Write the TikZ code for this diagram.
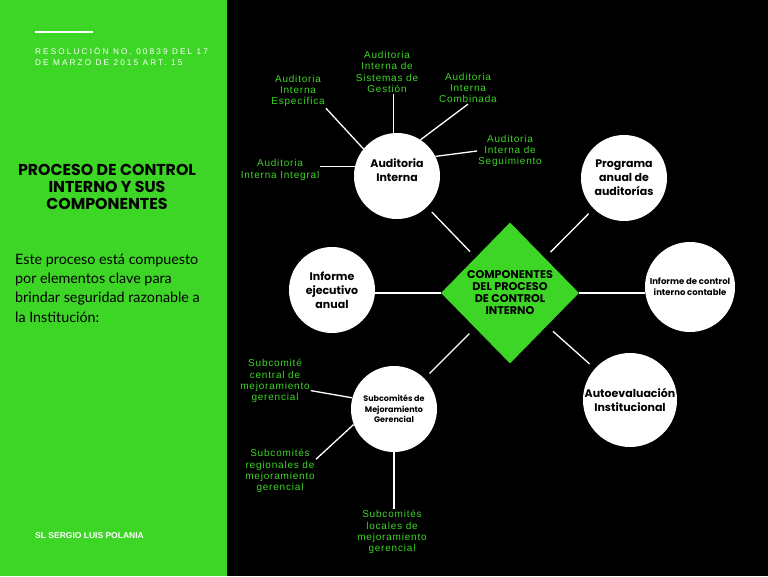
\documentclass[tikz,border=0pt]{standalone}
\usepackage{fontspec}
\setmainfont{Liberation Sans}
\newfontfamily\geofont{Poppins}
\newfontfamily\bodyfont{Lato}
\newfontfamily\greenfont[LetterSpace=8]{Liberation Sans}
\newfontfamily\widefont[LetterSpace=26]{Liberation Sans}
\usetikzlibrary{shapes.geometric}
\definecolor{panelgreen}{RGB}{62,214,38}

\begin{document}
\begin{tikzpicture}[x=1pt,y=1pt,yscale=-1,
  bubble/.style={circle,fill=white,inner sep=0pt,align=center,text=black,font=\geofont\bfseries\fontsize{11}{14}\selectfont},
  smallbubble/.style={bubble,font=\geofont\bfseries\fontsize{8.5}{10.8}\selectfont},
  sublabel/.style={text=panelgreen,align=center,inner sep=1pt,font=\greenfont\fontsize{10}{11.3}\selectfont},
  link/.style={white,line width=1.3pt},
  hub/.style={link,shorten <=8pt,shorten >=7pt}]

% Background
\fill[black] (0,0) rectangle (768,576);
\fill[panelgreen] (0,0) rectangle (227,576);
\useasboundingbox (0,0) rectangle (768,576);

% Left panel
\draw[white,line width=2pt] (35,32) -- (93,32);
\node[anchor=north west,inner sep=0pt,align=left,text=white,font=\widefont\fontsize{8.2}{11}\selectfont] (reso) at (35,47) {RESOLUCIÓN NO. 00839 DEL 17\\DE MARZO DE 2015 ART. 15};
\node[align=center,inner sep=0pt,font=\geofont\bfseries\fontsize{15.8}{16.8}\selectfont] (title) at (107,187) {PROCESO DE CONTROL\\INTERNO Y SUS\\COMPONENTES};
\node[anchor=north west,inner sep=0pt,align=left,font=\bodyfont\fontsize{14.3}{19.2}\selectfont] (intro) at (15,254) {Este proceso está compuesto\\por elementos clave para\\brindar seguridad razonable a\\la Institución:};
\node[anchor=west,inner sep=0pt,text=white,font=\bfseries\fontsize{8.5}{10}\selectfont] (autor) at (35,536) {SL SERGIO LUIS POLANIA};

% Hub
\node[diamond,fill=panelgreen,minimum width=138,minimum height=141,inner sep=0pt,align=center,font=\geofont\bfseries\fontsize{11.2}{12}\selectfont] (comp) at (510,293) {COMPONENTES\\DEL PROCESO\\DE CONTROL\\INTERNO};

% Circles
\node[bubble,minimum size=86] (ai) at (397,176) {};
\node[inner sep=0pt,align=center,font=\geofont\bfseries\fontsize{11}{14}\selectfont] (aitext) at (397,170) {Auditoria\\Interna};
\node[bubble,minimum size=86] (prog) at (624,178) {Programa\\anual de\\auditorías};
\node[smallbubble,minimum size=90] (cont) at (690,287) {Informe de control\\interno contable};
\node[bubble,minimum size=94] (auto) at (630,400) {Autoevaluación\\Institucional};
\node[bubble,minimum size=86] (ejec) at (332,290) {Informe\\ejecutivo\\anual};
\node[smallbubble,minimum size=86,font=\geofont\bfseries\fontsize{8}{10.5}\selectfont] (sub) at (394,409) {Subcomités de\\Mejoramiento\\Gerencial};

% Hub links
\draw[hub] (comp) -- (ai);
\draw[hub] (comp) -- (prog);
\draw[hub] (comp) -- (auto);
\draw[hub] (comp) -- (sub);
\draw[link] (comp.east) -- (comp.east -| cont.west);
\draw[link] (comp.west) -- (comp.west -| ejec.east);

% Auditoria Interna labels
\node[sublabel] (integral) at (280,170) {Auditoria\\Interna Integral};
\node[sublabel] (spec) at (298,91) {Auditoria\\Interna\\Específica};
\node[sublabel] (sist) at (387,72) {Auditoria\\Interna de\\Sistemas de\\Gestión};
\node[sublabel] (comb) at (468,88) {Auditoria\\Interna\\Combinada};
\node[sublabel] (seg) at (510,151) {Auditoria\\Interna de\\Seguimiento};
\draw[link] (ai.167) -- (ai.167 -| integral.east);
\draw[link] (spec.south east) -- (ai.141);
\draw[link] (ai.95) -- (ai.95 |- sist.south);
\draw[link] (comb.south) -- (ai.57);
\draw[link] (seg.west) -- (ai.27);

% Subcomites labels
\node[sublabel] (central) at (275,381) {Subcomité\\central de\\mejoramiento\\gerencial};
\node[sublabel] (regional) at (280,471) {Subcomités\\regionales de\\mejoramiento\\gerencial};
\node[sublabel] (local) at (392,532) {Subcomités\\locales de\\mejoramiento\\gerencial};
\draw[link] (central.-15) -- (sub.165);
\draw[link] (regional.18) -- (sub.201);
\draw[link] (sub.south) -- (sub.south |- local.north);
\end{tikzpicture}
\end{document}
